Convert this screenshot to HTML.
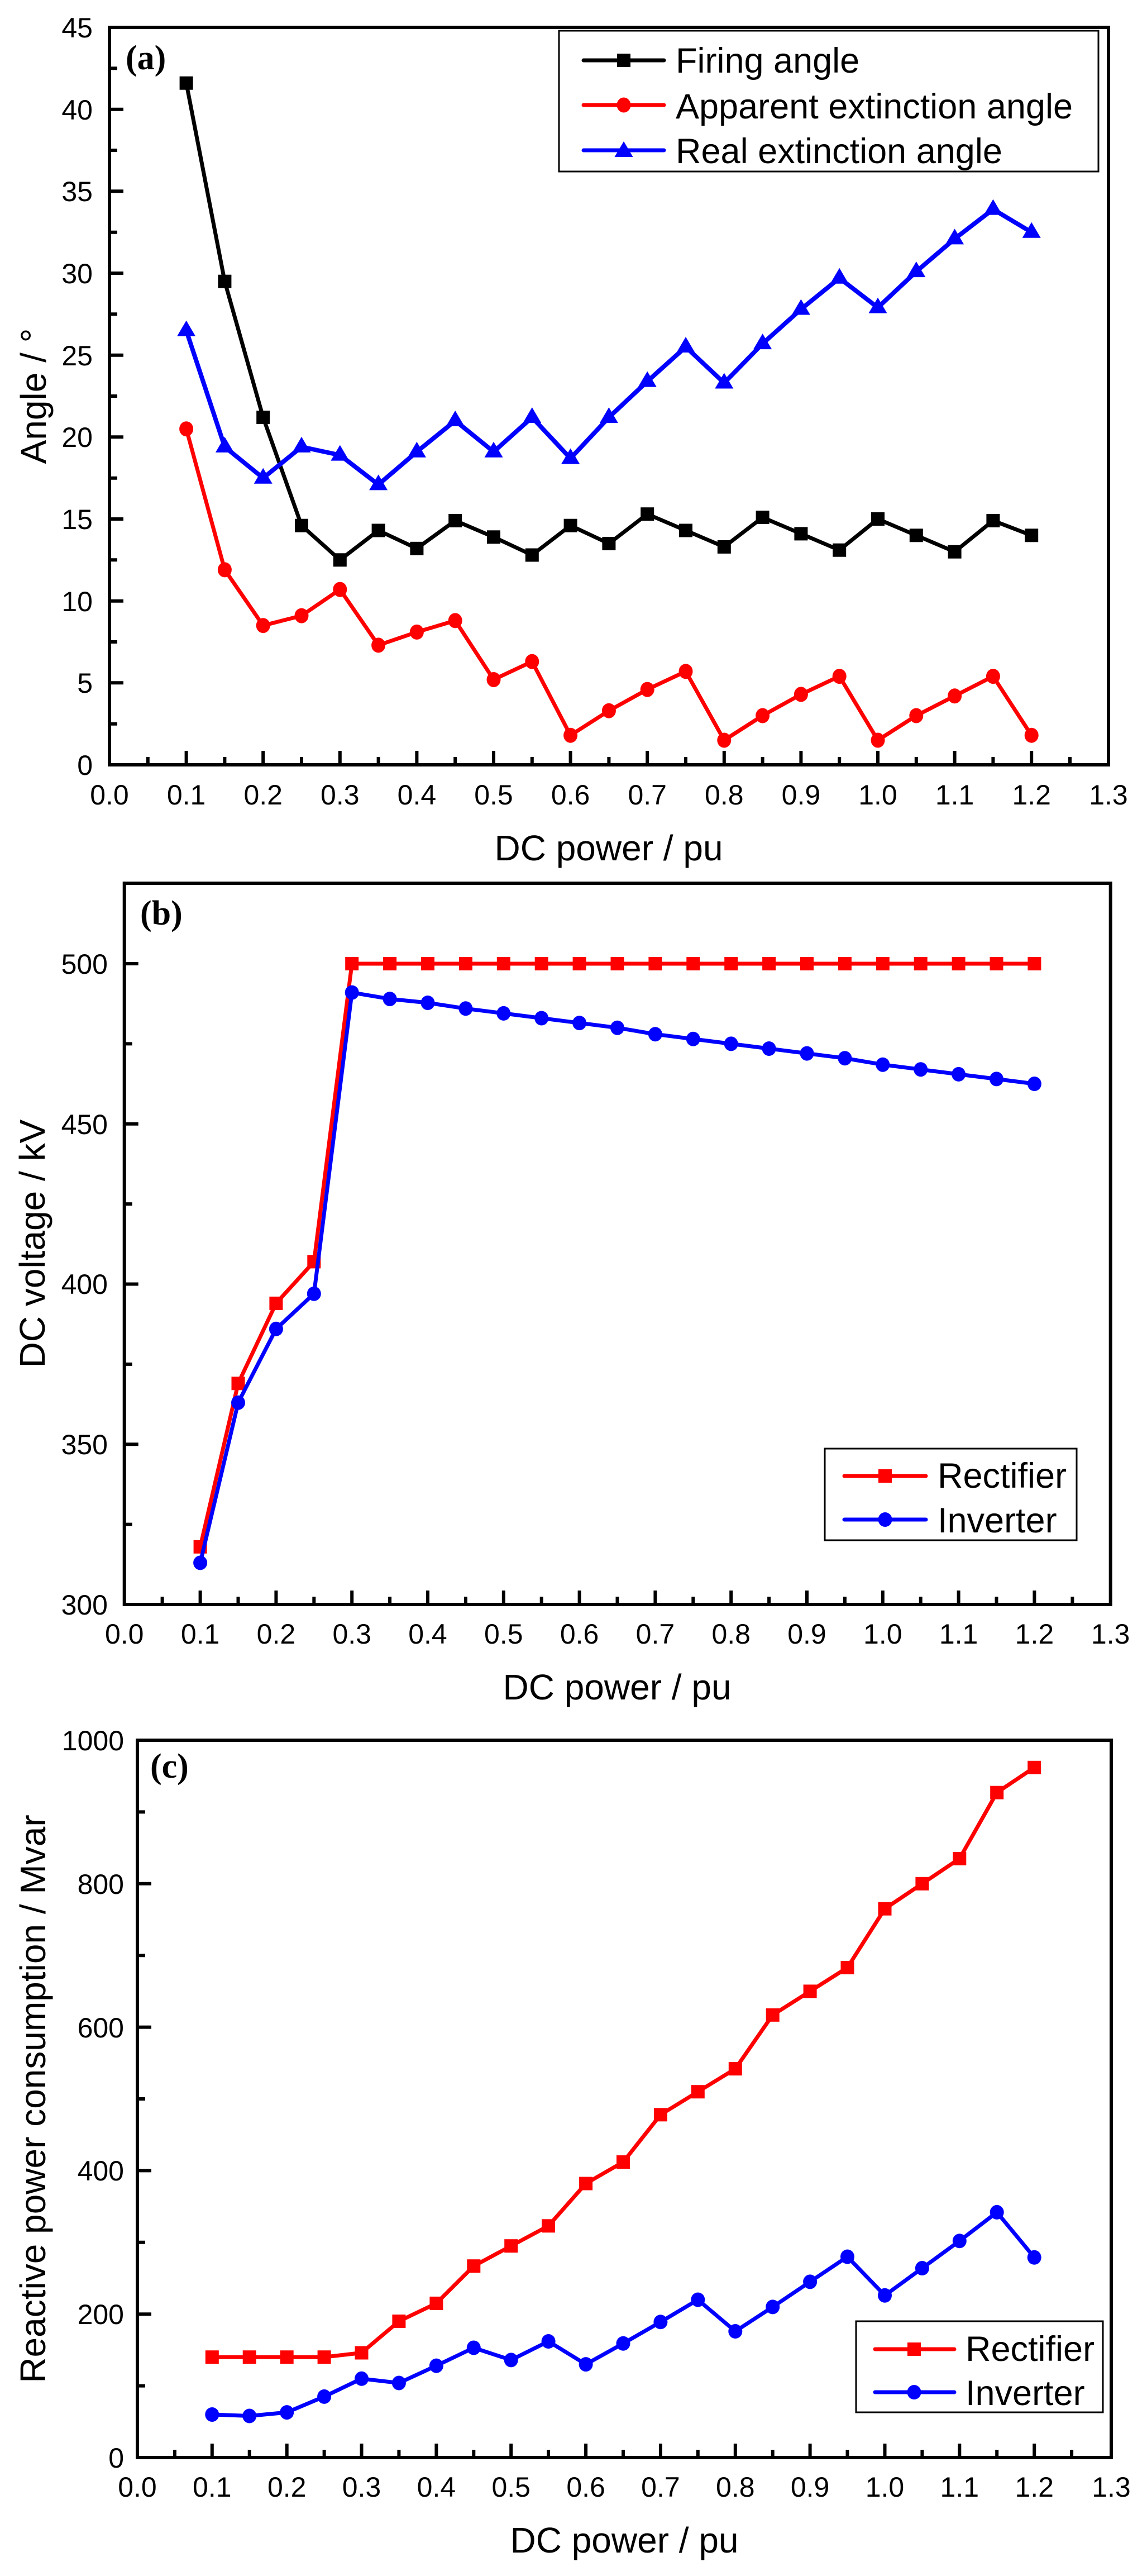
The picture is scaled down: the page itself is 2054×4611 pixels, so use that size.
<!DOCTYPE html>
<html><head><meta charset="utf-8"><style>
html,body{margin:0;padding:0;background:#fff}
svg{display:block}
text{font-family:"Liberation Sans",Arial,sans-serif}
.tl{font-size:50px}
.tt{font-size:64px}
.lg{font-size:63px}
.pl{font-family:"Liberation Serif","Times New Roman",serif;font-weight:bold;font-size:62px}
</style></head><body>
<svg width="2054" height="4611" viewBox="0 0 2054 4611" xmlns="http://www.w3.org/2000/svg">
<defs>
<marker id="sqK" markerUnits="userSpaceOnUse" viewBox="-13 -13 26 26" markerWidth="26" markerHeight="26" refX="0" refY="0" overflow="visible"><rect x="-12" y="-12" width="24" height="24" fill="#000"/></marker>
<marker id="ciR" markerUnits="userSpaceOnUse" viewBox="-14 -14 28 28" markerWidth="28" markerHeight="28" refX="0" refY="0" overflow="visible"><ellipse cx="0" cy="0" rx="12.5" ry="13.5" fill="#f00"/></marker>
<marker id="trB" markerUnits="userSpaceOnUse" viewBox="-18 -20 36 32" markerWidth="36" markerHeight="32" refX="0" refY="0" overflow="visible"><polygon points="0,-18 -16.5,10 16.5,10" fill="#00f"/></marker>
<marker id="sqR" markerUnits="userSpaceOnUse" viewBox="-13 -13 26 26" markerWidth="26" markerHeight="26" refX="0" refY="0" overflow="visible"><rect x="-12" y="-12" width="24" height="24" fill="#f00"/></marker>
<marker id="ciB" markerUnits="userSpaceOnUse" viewBox="-14 -14 28 28" markerWidth="28" markerHeight="28" refX="0" refY="0" overflow="visible"><ellipse cx="0" cy="0" rx="12.5" ry="13" fill="#00f"/></marker>
</defs>

<!-- ================= Panel (a) ================= -->
<g stroke="#000" stroke-width="6" fill="none">
<rect x="196" y="49" width="1789" height="1320"/>
<!-- x ticks -->
<path d="M333.6 1369v-25M471.2 1369v-25M608.8 1369v-25M746.4 1369v-25M884 1369v-25M1021.6 1369v-25M1159.2 1369v-25M1296.8 1369v-25M1434.4 1369v-25M1572 1369v-25M1709.6 1369v-25M1847.2 1369v-25
M264.8 1369v-14M402.4 1369v-14M540 1369v-14M677.6 1369v-14M815.2 1369v-14M952.8 1369v-14M1090.4 1369v-14M1228 1369v-14M1365.6 1369v-14M1503.2 1369v-14M1640.8 1369v-14M1778.4 1369v-14M1916 1369v-14"/>
<!-- y ticks -->
<path d="M196 1222.3h25M196 1075.7h25M196 929h25M196 782.3h25M196 635.7h25M196 489h25M196 342.3h25M196 195.7h25
M196 1295.7h14M196 1149h14M196 1002.3h14M196 855.7h14M196 709h14M196 562.3h14M196 415.7h14M196 269h14M196 122.3h14"/>
</g>
<g class="tl" text-anchor="end">
<text x="166" y="1387">0</text><text x="166" y="1240">5</text><text x="166" y="1094">10</text><text x="166" y="947">15</text><text x="166" y="800">20</text><text x="166" y="654">25</text><text x="166" y="507">30</text><text x="166" y="360">35</text><text x="166" y="214">40</text><text x="166" y="67">45</text>
</g>
<g class="tl" text-anchor="middle">
<text x="196" y="1440">0.0</text><text x="333.6" y="1440">0.1</text><text x="471.2" y="1440">0.2</text><text x="608.8" y="1440">0.3</text><text x="746.4" y="1440">0.4</text><text x="884" y="1440">0.5</text><text x="1021.6" y="1440">0.6</text><text x="1159.2" y="1440">0.7</text><text x="1296.8" y="1440">0.8</text><text x="1434.4" y="1440">0.9</text><text x="1572" y="1440">1.0</text><text x="1709.6" y="1440">1.1</text><text x="1847.2" y="1440">1.2</text><text x="1985" y="1440">1.3</text>
</g>
<text class="tt" text-anchor="middle" x="1090" y="1540">DC power / pu</text>
<text class="tt" text-anchor="middle" transform="translate(82,709) rotate(-90)">Angle / °</text>
<text class="pl" x="225" y="124">(a)</text>

<g fill="none" stroke-linejoin="round">
<polyline stroke="#000" stroke-width="7" marker-start="url(#sqK)" marker-mid="url(#sqK)" marker-end="url(#sqK)" points="333.6,148.7 402.4,503.7 471.2,747.1 540,940.7 608.8,1002.3 677.6,949.5 746.4,981.8 815.2,931.9 884,961.3 952.8,993.5 1021.6,940.7 1090.4,973 1159.2,920.2 1228,949.5 1296.8,978.9 1365.6,926.1 1434.4,955.4 1503.2,984.7 1572,929 1640.8,958.3 1709.6,987.7 1778.4,931.9 1847.2,958.3"/>
<polyline stroke="#f00" stroke-width="7" marker-start="url(#ciR)" marker-mid="url(#ciR)" marker-end="url(#ciR)" points="333.6,767.7 402.4,1019.9 471.2,1119.7 540,1102.1 608.8,1055.1 677.6,1154.9 746.4,1131.4 815.2,1110.9 884,1216.5 952.8,1184.2 1021.6,1316.2 1090.4,1272.2 1159.2,1234.1 1228,1201.8 1296.8,1325 1365.6,1281 1434.4,1242.9 1503.2,1210.6 1572,1325 1640.8,1281 1709.6,1245.8 1778.4,1210.6 1847.2,1316.2"/>
<polyline stroke="#00f" stroke-width="8" marker-start="url(#trB)" marker-mid="url(#trB)" marker-end="url(#trB)" points="333.6,591.7 402.4,799.9 471.2,855.7 540,799.9 608.8,814.6 677.6,867.4 746.4,808.7 815.2,753 884,808.7 952.8,747.1 1021.6,820.5 1090.4,747.1 1159.2,682.6 1228,621 1296.8,685.5 1365.6,615.1 1434.4,553.5 1503.2,497.8 1572,550.6 1640.8,486.1 1709.6,427.4 1778.4,374.6 1847.2,415.7"/>
</g>
<!-- legend a -->
<rect x="1001" y="55" width="966" height="252" fill="#fff" stroke="#000" stroke-width="3"/>
<g stroke-linecap="round" stroke-width="7">
<line x1="1045" y1="108" x2="1189" y2="108" stroke="#000"/>
<line x1="1045" y1="188" x2="1189" y2="188" stroke="#f00"/>
<line x1="1045" y1="269" x2="1189" y2="269" stroke="#00f"/>
</g>
<rect x="1105" y="96" width="24" height="24" fill="#000"/>
<ellipse cx="1117" cy="188" rx="12.5" ry="13.5" fill="#f00"/>
<polygon points="1117,253 1100.5,281 1133.5,281" fill="#00f"/>
<g class="lg">
<text x="1210" y="130">Firing angle</text>
<text x="1210" y="212">Apparent extinction angle</text>
<text x="1210" y="292">Real extinction angle</text>
</g>

<!-- ================= Panel (b) ================= -->
<g stroke="#000" stroke-width="6" fill="none">
<rect x="222.7" y="1581" width="1766" height="1291"/>
<path d="M358.6 2872v-25M494.4 2872v-25M630.2 2872v-25M766 2872v-25M901.8 2872v-25M1037.6 2872v-25M1173.4 2872v-25M1309.2 2872v-25M1445 2872v-25M1580.8 2872v-25M1716.6 2872v-25M1852.4 2872v-25
M290.6 2872v-14M426.5 2872v-14M562.3 2872v-14M698.1 2872v-14M833.9 2872v-14M969.7 2872v-14M1105.5 2872v-14M1241.3 2872v-14M1377.1 2872v-14M1512.9 2872v-14M1648.7 2872v-14M1784.5 2872v-14M1920.4 2872v-14"/>
<path d="M222.7 2585.25h25M222.7 2298.5h25M222.7 2011.75h25M222.7 1725h25
M222.7 2728.6h14M222.7 2441.9h14M222.7 2155.1h14M222.7 1868.4h14"/>
</g>
<g class="tl" text-anchor="end">
<text x="193" y="2890">300</text><text x="193" y="2603">350</text><text x="193" y="2316">400</text><text x="193" y="2030">450</text><text x="193" y="1743">500</text>
</g>
<g class="tl" text-anchor="middle">
<text x="222.7" y="2942">0.0</text><text x="358.6" y="2942">0.1</text><text x="494.4" y="2942">0.2</text><text x="630.2" y="2942">0.3</text><text x="766" y="2942">0.4</text><text x="901.8" y="2942">0.5</text><text x="1037.6" y="2942">0.6</text><text x="1173.4" y="2942">0.7</text><text x="1309.2" y="2942">0.8</text><text x="1445" y="2942">0.9</text><text x="1580.8" y="2942">1.0</text><text x="1716.6" y="2942">1.1</text><text x="1852.4" y="2942">1.2</text><text x="1988.6" y="2942">1.3</text>
</g>
<text class="tt" text-anchor="middle" x="1105" y="3042">DC power / pu</text>
<text class="tt" text-anchor="middle" transform="translate(80,2226) rotate(-90)">DC voltage / kV</text>
<text class="pl" x="251" y="1655">(b)</text>

<g fill="none" stroke-linejoin="round" stroke-width="7">
<polyline stroke="#f00" marker-start="url(#sqR)" marker-mid="url(#sqR)" marker-end="url(#sqR)" points="358.6,2768.8 426.5,2476.3 494.4,2332.9 562.3,2258.4 630.2,1725 698.1,1725 766,1725 833.9,1725 901.8,1725 969.7,1725 1037.6,1725 1105.5,1725 1173.4,1725 1241.3,1725 1309.2,1725 1377.1,1725 1445,1725 1512.9,1725 1580.8,1725 1648.7,1725 1716.6,1725 1784.5,1725 1852.4,1725"/>
<polyline stroke="#00f" marker-start="url(#ciB)" marker-mid="url(#ciB)" marker-end="url(#ciB)" points="358.6,2797.4 426.5,2510.7 494.4,2378.8 562.3,2315.7 630.2,1776.6 698.1,1788.1 766,1795 833.9,1805.3 901.8,1813.9 969.7,1822.5 1037.6,1831.1 1105.5,1839.7 1173.4,1851.2 1241.3,1859.8 1309.2,1868.4 1377.1,1877 1445,1885.6 1512.9,1894.2 1580.8,1905.7 1648.7,1914.3 1716.6,1922.9 1784.5,1931.4 1852.4,1940"/>
</g>
<rect x="1477" y="2593" width="451" height="164" fill="#fff" stroke="#000" stroke-width="3"/>
<g stroke-linecap="round" stroke-width="7">
<line x1="1512" y1="2642" x2="1658" y2="2642" stroke="#f00"/>
<line x1="1512" y1="2720" x2="1658" y2="2720" stroke="#00f"/>
</g>
<rect x="1573" y="2630" width="24" height="24" fill="#f00"/>
<ellipse cx="1585" cy="2720" rx="12.5" ry="13" fill="#00f"/>
<g class="lg">
<text x="1679" y="2663">Rectifier</text>
<text x="1679" y="2743">Inverter</text>
</g>

<!-- ================= Panel (c) ================= -->
<g stroke="#000" stroke-width="6" fill="none">
<rect x="246" y="3115" width="1744" height="1284"/>
<path d="M379.8 4399v-25M513.7 4399v-25M647.5 4399v-25M781.4 4399v-25M915.2 4399v-25M1049.1 4399v-25M1182.9 4399v-25M1316.8 4399v-25M1450.6 4399v-25M1584.5 4399v-25M1718.3 4399v-25M1852.2 4399v-25
M312.9 4399v-14M446.7 4399v-14M580.6 4399v-14M714.4 4399v-14M848.3 4399v-14M982.1 4399v-14M1116 4399v-14M1249.8 4399v-14M1383.7 4399v-14M1517.5 4399v-14M1651.4 4399v-14M1785.2 4399v-14M1919.1 4399v-14"/>
<path d="M246 4142.2h25M246 3885.4h25M246 3628.6h25M246 3371.8h25
M246 4270.6h14M246 4013.8h14M246 3757h14M246 3500.2h14M246 3243.4h14"/>
</g>
<g class="tl" text-anchor="end">
<text x="222" y="4417">0</text><text x="222" y="4160">200</text><text x="222" y="3903">400</text><text x="222" y="3647">600</text><text x="222" y="3390">800</text><text x="222" y="3133">1000</text>
</g>
<g class="tl" text-anchor="middle">
<text x="246" y="4469">0.0</text><text x="379.8" y="4469">0.1</text><text x="513.7" y="4469">0.2</text><text x="647.5" y="4469">0.3</text><text x="781.4" y="4469">0.4</text><text x="915.2" y="4469">0.5</text><text x="1049.1" y="4469">0.6</text><text x="1182.9" y="4469">0.7</text><text x="1316.8" y="4469">0.8</text><text x="1450.6" y="4469">0.9</text><text x="1584.5" y="4469">1.0</text><text x="1718.3" y="4469">1.1</text><text x="1852.2" y="4469">1.2</text><text x="1990" y="4469">1.3</text>
</g>
<text class="tt" text-anchor="middle" x="1118" y="4569">DC power / pu</text>
<text class="tt" text-anchor="middle" transform="translate(81,3757) rotate(-90)">Reactive power consumption / Mvar</text>
<text class="pl" x="269" y="3182">(c)</text>

<g fill="none" stroke-linejoin="round" stroke-width="7">
<polyline stroke="#f00" marker-start="url(#sqR)" marker-mid="url(#sqR)" marker-end="url(#sqR)" points="379.8,4219.2 446.7,4219.2 513.7,4219.2 580.6,4219.2 647.5,4211.5 714.4,4155 781.4,4122.9 848.3,4056.2 915.2,4020.2 982.1,3984.3 1049.1,3908.5 1116,3870 1182.9,3785.3 1249.8,3744.2 1316.8,3703.1 1383.7,3606.8 1450.6,3564.4 1517.5,3522 1584.5,3416.7 1651.4,3371.8 1718.3,3326.9 1785.2,3208.7 1852.2,3163.8"/>
<polyline stroke="#00f" marker-start="url(#ciB)" marker-mid="url(#ciB)" marker-end="url(#ciB)" points="379.8,4322 446.7,4324.5 513.7,4318.1 580.6,4289.9 647.5,4257.8 714.4,4265.5 781.4,4234.6 848.3,4202.5 915.2,4224.4 982.1,4191 1049.1,4232.1 1116,4194.8 1182.9,4156.3 1249.8,4116.5 1316.8,4173 1383.7,4129.4 1450.6,4084.4 1517.5,4039.5 1584.5,4108.8 1651.4,4060 1718.3,4011.2 1785.2,3959.9 1852.2,4040.8"/>
</g>
<rect x="1533" y="4155" width="442" height="163" fill="#fff" stroke="#000" stroke-width="3"/>
<g stroke-linecap="round" stroke-width="7">
<line x1="1567" y1="4205" x2="1709" y2="4205" stroke="#f00"/>
<line x1="1567" y1="4282" x2="1709" y2="4282" stroke="#00f"/>
</g>
<rect x="1625" y="4193" width="24" height="24" fill="#f00"/>
<ellipse cx="1637" cy="4282" rx="12.5" ry="13" fill="#00f"/>
<g class="lg">
<text x="1729" y="4226">Rectifier</text>
<text x="1729" y="4305">Inverter</text>
</g>
</svg>
</body></html>
